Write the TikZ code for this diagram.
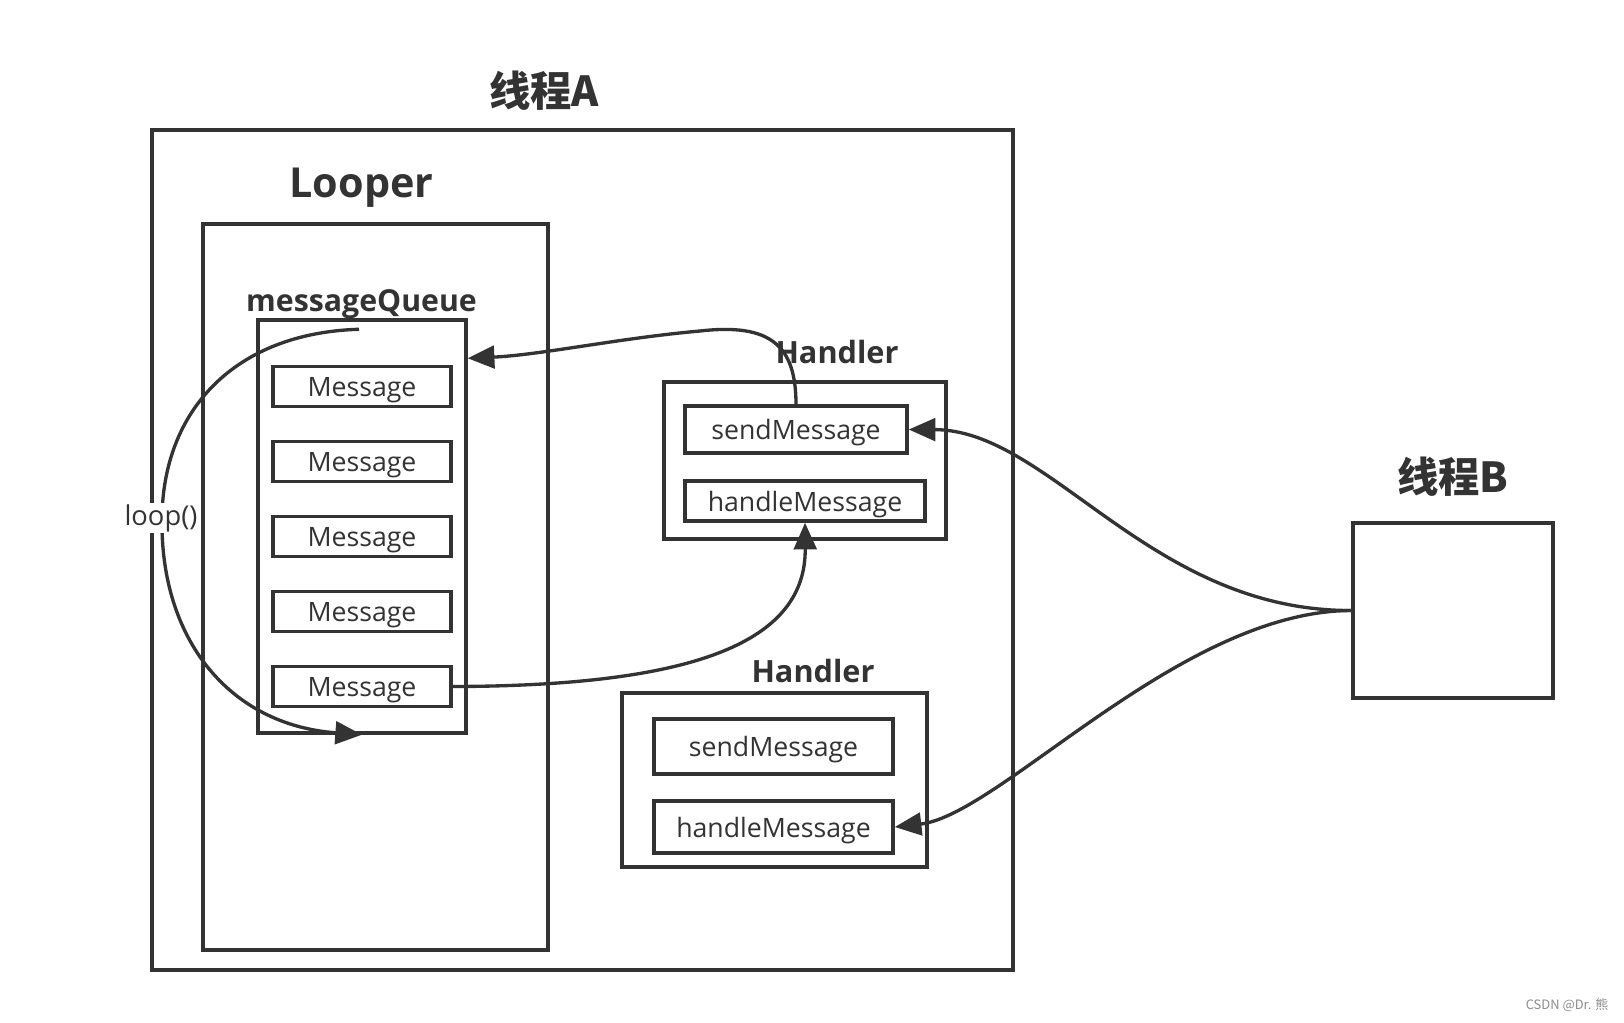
\documentclass[tikz,border=0pt]{standalone}
\usepackage{fontspec}
\setmainfont{Open Sans}
\newfontfamily\cjk{Noto Sans CJK SC}
\usetikzlibrary{arrows.meta,calc}
\definecolor{ink}{HTML}{333333}
\begin{document}
\begin{tikzpicture}[x=0.75pt,y=-0.75pt,
  box/.style={draw=ink,line width=2.6pt,inner sep=0pt,fill=white},
  msgbox/.style={box,minimum width=133.5pt,minimum height=30pt,font=\fontsize{20}{24}\selectfont,text depth=0pt},
  fnbox/.style={box,font=\fontsize{20}{24}\selectfont,text depth=0pt},
  title/.style={text=ink,font=\cjk\bfseries\fontsize{31}{36}\selectfont,inner sep=0pt},
  lbl/.style={text=ink,font=\bfseries\fontsize{23}{27}\selectfont,inner sep=0pt,anchor=base},
  conn/.style={draw=ink,line width=2.5pt},
  arr/.style={conn,-{Triangle[length=20pt,width=17pt]}}]
\useasboundingbox[fill=white] (0,0) rectangle (1624,1022);

% thread A
\node[box,minimum width=645.75pt,minimum height=630pt] (thA) at (582.5,550) {};
\node[title] (thAlbl) at (544,91) {线程A};
% Looper
\node[box,minimum width=258.75pt,minimum height=544.5pt] (looper) at (375.5,587) {};
\node[lbl,font=\bfseries\fontsize{31}{36}\selectfont] (looperlbl) at (361.5,197) {Looper};
% message queue
\node[box,minimum width=156pt,minimum height=309.75pt] (mq) at (362,526.5) {};
\node[lbl,font=\bfseries\fontsize{22.7}{27}\selectfont] (mqlbl) at (361.5,311) {messageQueue};
\node[msgbox,text=ink] (m1) at (362,386.5) {Message};
\node[msgbox,text=ink] (m2) at (362,461.5) {Message};
\node[msgbox,text=ink] (m3) at (362,536.5) {Message};
\node[msgbox,text=ink] (m4) at (362,611.5) {Message};
\node[msgbox,text=ink] (m5) at (362,686.5) {Message};

% Handler 1
\node[box,minimum width=211.5pt,minimum height=117.75pt] (h1) at (805,460.5) {};
\node[fnbox,text=ink,minimum width=166.5pt,minimum height=35.25pt] (send1) at (796,429.5) {sendMessage};
\node[fnbox,text=ink,minimum width=180pt,minimum height=30pt] (handle1) at (805,501) {handleMessage};
% Handler 2
\node[box,minimum width=228.75pt,minimum height=130.5pt] (h2) at (774.5,780) {};
\node[lbl] (h2lbl) at (813,682) {Handler};
\node[fnbox,text=ink,minimum width=179.25pt,minimum height=41.25pt] (send2) at (773.5,746.5) {sendMessage};
\node[fnbox,text=ink,minimum width=179.25pt,minimum height=39pt] (handle2) at (773.5,827) {handleMessage};

% thread B
\node[box,minimum width=150pt,minimum height=131.25pt] (thB) at (1453,610.5) {};
\node[title] (thBlbl) at (1453,477) {线程B};

% loop arc
\coordinate (lpA) at ($(mq.north)+(-3,11)$);
\draw[arr] (lpA) .. controls (235,333) and (163,410) .. (162,518)
  .. controls (160,640) and (230,725) .. (mq.south);
\node[text=ink,fill=white,inner sep=1pt,font=\fontsize{20.5}{24}\selectfont] (loop) at (161,518) {loop()};

% send -> queue
\coordinate (mqin) at ($(mq.north east)+(0,40)$);
\draw[arr] (send1.north) .. controls (796,345) and (770,323) .. (700,331)
  .. controls (620,338) and (540,355) .. (mqin);
\node[lbl] (h1lbl) at (837,363) {Handler};

% message -> handleMessage
\draw[arr] (m5.east) .. controls (700,686) and (806,640) .. (handle1.south);

% thread B -> handlers
\draw[arr] (thB.west) .. controls (1150,611) and (1050,430) .. (send1.east);
\draw[arr] (thB.west) .. controls (1180,611) and (1000,815) .. (handle2.east);

% watermark
\node[text=black!45,font=\cjk\fontsize{9.7}{11}\selectfont,inner sep=0pt] (wm) at (1567,1005) {CSDN @Dr. 熊};
\end{tikzpicture}
\end{document}
